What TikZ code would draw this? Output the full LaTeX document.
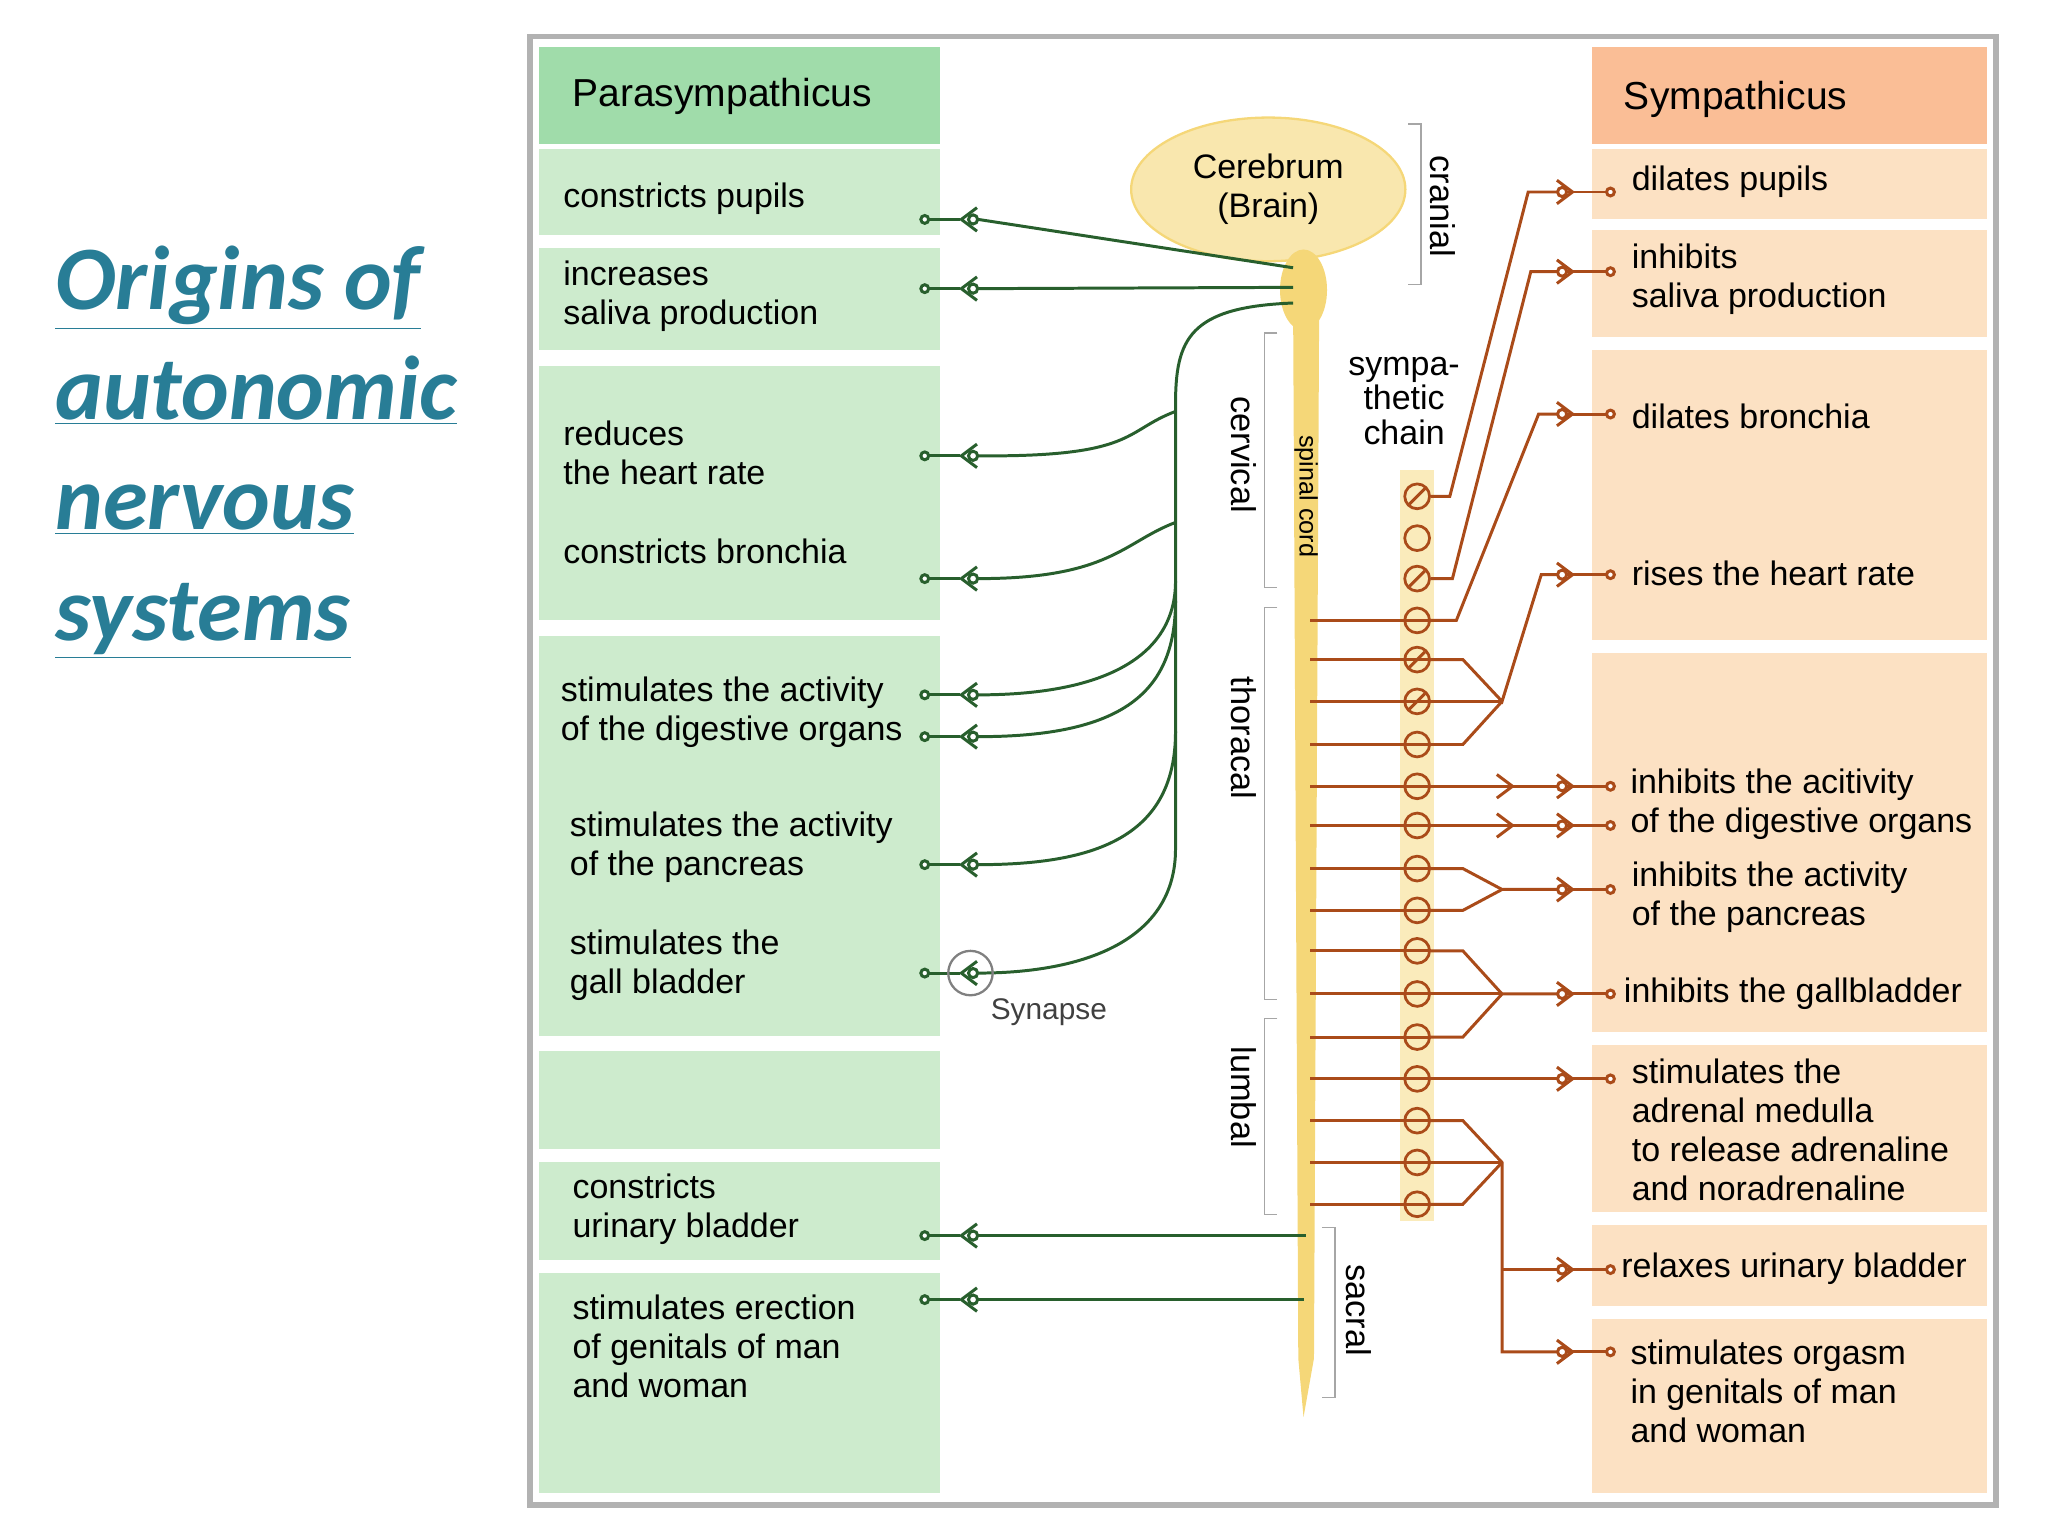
\documentclass[tikz,border=0pt]{standalone}
\usepackage{fontspec}
\setmainfont{Liberation Sans}
\newfontfamily\titlefont{Carlito}
\usetikzlibrary{arrows.meta, positioning, shapes.geometric}
\definecolor{paragreen}{RGB}{205,235,205}
\definecolor{parahead}{RGB}{160,220,170}
\definecolor{symorange}{RGB}{252,225,195}
\definecolor{symhead}{RGB}{250,190,150}
\definecolor{nervegreen}{RGB}{40,95,45}
\definecolor{nerveorange}{RGB}{170,75,25}
\definecolor{cordyellow}{RGB}{245,215,120}
\definecolor{titleblue}{RGB}{40,125,150}

\newcommand{\parasyn}[2]{% green synapse ending
  \draw[pnerve] (708,#2) -- (735,#2);
  \draw[pnerve] (748,#2-9) -- (736,#2) -- (748,#2+9);
  \draw[pnerve, fill=white] (745,#2) circle (3.5);
  \draw[pnerve, fill=white] (708,#2) circle (3);
  \coordinate (#1) at (749,#2);}
\newcommand{\symsyn}[2]{% orange synapse ending
  \draw[snerve] (1192,#2-9) -- (1204,#2) -- (1192,#2+9);
  \draw[snerve] (1200,#2) -- (1233,#2);
  \draw[snerve, fill=white] (1196,#2) circle (3.5);
  \draw[snerve, fill=white] (1233,#2) circle (3);
  \coordinate (#1) at (1192,#2);}

\begin{document}
\begin{tikzpicture}[x=0.02cm, y=-0.02cm,
        label/.style={anchor=west, align=left, font=\fontsize{14.8}{17}\selectfont, inner sep=0},
        head/.style={anchor=west, font=\fontsize{17}{20}\selectfont, inner sep=0},
        region/.style={rotate=-90, font=\fontsize{15}{17}\selectfont, inner sep=0},
        pnerve/.style={draw=nervegreen, line width=1.3pt},
        snerve/.style={draw=nerveorange, line width=1.3pt},
        bracket/.style={draw=gray!70, line width=0.6pt}
        ]
        \useasboundingbox (0,0) rectangle (1568,1176);

        % Title
        \node[anchor=north west, align=left, text=titleblue, inner sep=0,
              font=\titlefont\bfseries\itshape\fontsize{39.5}{48}\selectfont] (title) at (42,188)
              {\underline{Origins of}\\ \underline{autonomic}\\ \underline{nervous}\\ \underline{systems}};

        % Frame and columns
        \draw[gray!60, line width=2.5pt] (406,28) rectangle (1528,1152);
        \fill[parahead] (413,36) rectangle (720,110);
        \foreach \a/\b in {114/180, 190/268, 280/475, 487/793, 805/880, 890/965, 975/1143}
          \fill[paragreen] (413,\a) rectangle (720,\b);
        \fill[symhead] (1219,36) rectangle (1521,110);
        \foreach \a/\b in {114/168, 176/258, 268/490, 500/790, 800/928, 938/1000, 1010/1143}
          \fill[symorange] (1219,\a) rectangle (1521,\b);

        % Brain and spinal cord
        \fill[cordyellow!50] (1072,360) rectangle (1098,935);
        \fill[cordyellow] (990,230) -- (1010,230) -- (1006,1040) -- (998,1085) -- (994,1040) -- cycle;
        \node (brain) [ellipse, draw=cordyellow, line width=1pt, fill=cordyellow!60, minimum width=4.2cm, minimum height=2.2cm] at (971,145) {};
        \node[align=center, font=\fontsize{14.8}{17}\selectfont] (brainlabel) at (971,145) {Cerebrum\\(Brain)};
        \node (stem) [ellipse, fill=cordyellow, minimum width=0.72cm, minimum height=1.24cm, inner sep=0] at (998,222) {};
        \node[rotate=-90, font=\fontsize{11}{13}\selectfont] (cord) at (1000,380) {spinal cord};

        % Region brackets
        \draw[bracket] (1078,95) -- (1088,95) -- (1088,218) -- (1078,218);
        \node[region] (cranial) at (1105,158) {cranial};
        \draw[bracket] (978,255) -- (968,255) -- (968,450) -- (978,450);
        \node[region] (cervical) at (952,348) {cervical};
        \draw[bracket] (978,465) -- (968,465) -- (968,765) -- (978,765);
        \node[region] (thoracal) at (952,565) {thoracal};
        \draw[bracket] (978,780) -- (968,780) -- (968,930) -- (978,930);
        \node[region] (lumbal) at (952,840) {lumbal};
        \draw[bracket] (1012,940) -- (1022,940) -- (1022,1070) -- (1012,1070);
        \node[region] (sacral) at (1040,1003) {sacral};
        \node[align=center, font=\fontsize{14.8}{15}\selectfont] (chain) at (1075,307) {sympa-\\thetic\\chain};

        % Headers and labels
        \node[head] (para) at (438,74) {Parasympathicus};
        \node[head] (sym) at (1243,76) {Sympathicus};
        \node[label] (p1) at (431,152) {constricts pupils};
        \node[label] (p2) at (431,227) {increases\\saliva production};
        \node[label] (p3) at (431,347) {reduces\\the heart rate};
        \node[label] (p4) at (431,422) {constricts bronchia};
        \node[label] (p5) at (429,545) {stimulates the activity\\of the digestive organs};
        \node[label] (p6) at (436,649) {stimulates the activity\\of the pancreas};
        \node[label] (p7) at (436,739) {stimulates the\\gall bladder};
        \node[label] (p8) at (438,926) {constricts\\urinary bladder};
        \node[label] (p9) at (438,1031) {stimulates erection\\of genitals of man\\and woman};
        \node[label] (s1) at (1249,139) {dilates pupils};
        \node[label] (s2) at (1249,214) {inhibits\\saliva production};
        \node[label] (s3) at (1249,319) {dilates bronchia};
        \node[label] (s4) at (1249,439) {rises the heart rate};
        \node[label] (s5) at (1248,616) {inhibits the acitivity\\of the digestive organs};
        \node[label] (s6) at (1249,687) {inhibits the activity\\of the pancreas};
        \node[label] (s7) at (1243,761) {inhibits the gallbladder};
        \node[label] (s8) at (1249,865) {stimulates the\\adrenal medulla\\to release adrenaline\\and noradrenaline};
        \node[label] (s9) at (1241,971) {relaxes urinary bladder};
        \node[label] (s10) at (1248,1065) {stimulates orgasm\\in genitals of man\\and woman};

        % Parasympathetic nerves
        \parasyn{g1}{168} \parasyn{g2}{221} \parasyn{g3}{349} \parasyn{g4}{443}
        \parasyn{g5}{532} \parasyn{g6}{564} \parasyn{g7}{662} \parasyn{g8}{745}
        \parasyn{g9}{946} \parasyn{g10}{995}
        \draw[pnerve] (g1) -- (990,205);
        \draw[pnerve] (g2) -- (990,220);
        \draw[pnerve] (990,232) .. controls (910,235) and (900,260) .. (900,310) -- (900,650)
              .. controls (900,720) and (830,745) .. (g8);
        \draw[pnerve] (g3) .. controls (870,350) and (860,330) .. (900,315);
        \draw[pnerve] (g4) .. controls (850,443) and (860,415) .. (900,400);
        \draw[pnerve] (g5) .. controls (850,532) and (900,500) .. (900,445);
        \draw[pnerve] (g6) .. controls (860,564) and (900,530) .. (900,460);
        \draw[pnerve] (g7) .. controls (840,662) and (900,640) .. (900,560);
        \draw[pnerve] (g9) -- (1000,946);
        \draw[pnerve] (g10) -- (998,995);
        \draw[gray, line width=1pt] (743,745) circle (17);
        \node[font=\fontsize{13}{14}\selectfont, text=black!75] (synapse) at (803,775) {Synapse};

        % Sympathetic chain
        \foreach \y [count=\i] in {380,412,443,475,505,537,570,602,632,665,697,728,761,794,826,858,890,922} {
          \node[circle, draw=nerveorange, line width=1.2pt, minimum size=0.38cm, inner sep=0] (c\i) at (1085,\y) {};
          \coordinate (y\i) at (1003,\y);
        }
        \foreach \i in {4,...,18}
          \draw[snerve] (y\i) -- (c\i.east);
        \foreach \y in {380,443,505,537}
          \draw[snerve] (1079,\y+6) -- (1091,\y-6);

        % Sympathetic nerves
        \symsyn{o1}{147} \symsyn{o2}{208} \symsyn{o3}{317} \symsyn{o4}{440}
        \symsyn{o5}{602} \symsyn{o6}{632} \symsyn{o7}{681} \symsyn{o8}{761}
        \symsyn{o9}{826} \symsyn{o10}{972} \symsyn{o11}{1035}
        \draw[snerve] (c1.east) -- (1110,380) -- (1170,147) -- (o1);
        \draw[snerve] (c3.east) -- (1112,443) -- (1172,208) -- (o2);
        \draw[snerve] (c4.east) -- (1115,475) -- (1178,317) -- (o3);
        \draw[snerve] (c5.east) -- (1120,505) -- (1150,537) -- (1180,440) -- (o4);
        \draw[snerve] (c6.east) -- (1150,537);
        \draw[snerve] (c7.east) -- (1120,570) -- (1150,537);
        \foreach \i/\o/\y in {8/5/602, 9/6/632} {
          \draw[snerve] (c\i.east) -- (1158,\y);
          \draw[snerve] (1146,\y-9) -- (1158,\y) -- (1146,\y+9);
          \draw[snerve] (1158,\y) -- (o\o);
        }
        \draw[snerve] (c10.east) -- (1120,665) -- (1150,681) -- (o7);
        \draw[snerve] (c11.east) -- (1120,697) -- (1150,681);
        \draw[snerve] (c12.east) -- (1120,728) -- (1150,761) -- (o8);
        \draw[snerve] (c13.east) -- (1150,761);
        \draw[snerve] (c14.east) -- (1120,794) -- (1150,761);
        \draw[snerve] (c15.east) -- (o9);
        \draw[snerve] (c16.east) -- (1120,858) -- (1150,890) -- (1150,1035) -- (o11);
        \draw[snerve] (c17.east) -- (1150,890);
        \draw[snerve] (c18.east) -- (1120,922) -- (1150,890);
        \draw[snerve] (1150,972) -- (o10);
    \end{tikzpicture}
\end{document}
